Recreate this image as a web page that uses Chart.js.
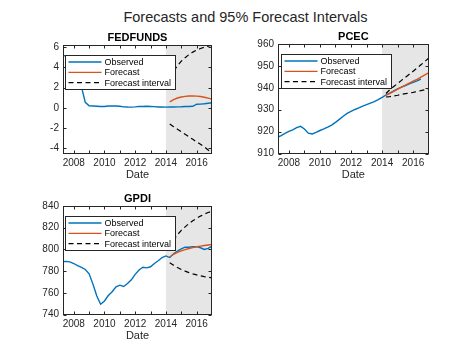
<!DOCTYPE html>
<html>
<head>
<meta charset="utf-8">
<script src="https://cdn.jsdelivr.net/npm/chart.js@4.4.0/dist/chart.umd.min.js"></script>
<style>
html,body{margin:0;padding:0;background:#fff;width:474px;height:355px;overflow:hidden}
#title{position:absolute;left:0;top:9px;width:491px;text-align:center;font:14.5px "Liberation Sans",Arial,sans-serif;line-height:17px;color:#262626;white-space:nowrap}
canvas{position:absolute}
</style>
</head>
<body>
<div id="title">Forecasts and 95% Forecast Intervals</div>
<canvas id="c1" width="237" height="160" style="left:0px;top:25px"></canvas>
<canvas id="c2" width="237" height="161" style="left:237px;top:24px"></canvas>
<canvas id="c3" width="237" height="160" style="left:0px;top:186px"></canvas>
<script>
// ---------- data ----------
const obsDates = [2007.25,2007.5,2007.75,2008.0,2008.25,2008.5,2008.75,2009.0,2009.25,2009.5,2009.75,2010.0,
  2010.25,2010.5,2010.75,2011.0,2011.25,2011.5,2011.75,2012.0,2012.25,2012.5,2012.75,2013.0,2013.25,2013.5,
  2013.75,2014.0,2014.25,2014.5,2014.75,2015.0,2015.25,2015.5,2015.75,2016.0,2016.25,2016.5,2016.75,2017.0];
const fcDates = [2014.25,2014.5,2014.75,2015.0,2015.25,2015.5,2015.75,2016.0,2016.25,2016.5,2016.75,2017.0];
const forecastStart = 2014.0;

const fedObs = [5.25,5.07,4.50,3.18,2.40,2.10,0.55,0.20,0.18,0.16,0.14,0.13,0.18,0.19,0.19,0.16,0.10,0.08,0.07,0.10,
  0.15,0.14,0.16,0.14,0.12,0.08,0.09,0.07,0.09,0.09,0.10,0.11,0.13,0.14,0.16,0.36,0.37,0.40,0.45,0.50];
const fedFc = [0.60,0.82,0.97,1.07,1.13,1.17,1.18,1.16,1.12,1.05,0.96,0.86];
const fedUp = [2.9,3.6,4.15,4.6,4.95,5.25,5.5,5.7,5.85,5.98,6.08,6.18];
const fedLo = [-1.6,-1.85,-2.1,-2.35,-2.6,-2.85,-3.1,-3.35,-3.6,-3.85,-4.15,-4.45];

const pcecObs = [917.3,918.2,919.2,920.1,920.8,921.8,922.4,921.2,919.3,918.9,919.6,920.5,921.2,922.0,923.0,924.2,
  925.6,927.0,928.3,929.2,930.1,930.8,931.6,932.3,933.0,933.7,934.6,935.6,936.7,937.6,938.6,939.5,940.3,941.0,
  941.8,942.5,943.2,944.0];
const pcecFc = [936.6,937.5,938.4,939.4,940.3,941.2,942.1,943.0,943.9,944.9,945.9,946.8];
const pcecUp = [937.4,939.1,940.6,942.0,943.4,944.8,946.2,947.6,949.0,950.5,952.0,953.6];
const pcecLo = [935.8,936.0,936.3,936.6,937.0,937.3,937.6,937.9,938.3,938.7,939.1,939.5];

const gpdiObs = [788.5,789.0,788.5,787.0,785.0,783.5,781.5,777.5,768.0,757.0,749.5,752.5,757.5,761.0,765.5,767.0,
  765.8,768.5,772.0,777.0,781.0,783.5,783.0,784.0,787.0,789.5,792.5,794.0,792.5,796.0,798.5,800.5,802.0,802.0,
  802.5,802.5,801.5,800.0,801.0,803.0];
const gpdiFc = [793.0,795.5,797.2,798.6,799.8,800.8,801.6,802.4,803.0,803.6,804.1,804.6];
const gpdiUp = [801.0,808.5,813.5,817.5,820.8,823.8,826.4,828.7,830.7,832.5,834.0,835.2];
const gpdiLo = [787.8,785.5,783.3,781.5,780.0,778.6,777.5,776.5,775.6,774.9,774.3,773.8];

const xTicks = [2008,2010,2012,2014,2016];
const xTickMarks = [2008,2009,2010,2011,2012,2013,2014,2015,2016];
const fedTicks = [-4,-2,0,2,4,6];
const pcecTicks = [910,920,930,940,950,960];
const gpdiTicks = [740,760,780,800,820,840];
const legendLabels = ['Observed','Forecast','Forecast interval'];
const xLabel = 'Date';

// ---------- styling ----------
const FONT = '"Liberation Sans", Arial, sans-serif';
const TXT = '#262626';
const BLUE = '#0072BD', ORANGE = '#D95319', BLACK = '#000000';
const DASH = [5, 3.5];

const msPlugin = {
  id: 'ms',
  beforeDatasetsDraw(chart, args, o) {
    const {ctx, chartArea: a, scales: {x}} = chart;
    const x0 = x.getPixelForValue(o.shadeFrom);
    ctx.save();
    ctx.fillStyle = '#e6e6e6';
    ctx.fillRect(x0, a.top, a.right - x0, a.bottom - a.top);
    ctx.restore();
  },
  afterDatasetsDraw(chart, args, o) {
    const {ctx, chartArea: a, scales: {x, y}} = chart;
    ctx.save();
    ctx.strokeStyle = TXT; ctx.lineWidth = 1;
    const L = Math.round(a.left) + 0.5, R = Math.round(a.right) - 0.5;
    const T = Math.round(a.top) + 0.5, B = Math.round(a.bottom) - 0.5;
    ctx.strokeRect(L, T, R - L, B - T);
    ctx.beginPath();
    o.xMarks.forEach(v => {
      const px = Math.round(x.getPixelForValue(v)) + 0.5;
      ctx.moveTo(px, B); ctx.lineTo(px, B - 3);
      ctx.moveTo(px, T); ctx.lineTo(px, T + 3);
    });
    y.ticks.forEach(t => {
      const py = Math.round(y.getPixelForValue(t.value)) + 0.5;
      ctx.moveTo(L, py); ctx.lineTo(L + 3, py);
      ctx.moveTo(R, py); ctx.lineTo(R - 3, py);
    });
    ctx.stroke();
    // legend
    const lx = Math.round(a.left + o.legendDx) + 0.5, ly = Math.round(a.top + 10) + 0.5;
    const lw = 110, lh = 34;
    ctx.fillStyle = '#fff';
    ctx.fillRect(lx, ly, lw, lh);
    ctx.strokeStyle = TXT;
    ctx.strokeRect(lx, ly, lw, lh);
    const rows = [6.5, 16.8, 27.1];
    const styles = [[BLUE, []], [ORANGE, []], [BLACK, DASH]];
    ctx.font = '9px ' + FONT;
    ctx.textBaseline = 'middle';
    ctx.textAlign = 'left';
    legendLabels.forEach((lab, i) => {
      const ry = ly + rows[i];
      ctx.beginPath();
      ctx.strokeStyle = styles[i][0];
      ctx.lineWidth = 1.3;
      ctx.setLineDash(styles[i][1]);
      ctx.moveTo(lx + 3, ry); ctx.lineTo(lx + 36, ry);
      ctx.stroke();
      ctx.setLineDash([]);
      ctx.fillStyle = '#000';
      ctx.fillText(lab, lx + 39, ry + 0.5);
    });
    ctx.restore();
  },
  afterDraw(chart, args, o) {
    const {ctx, chartArea: a} = chart;
    ctx.save();
    ctx.font = 'bold 11px ' + FONT;
    ctx.fillStyle = '#000';
    ctx.textAlign = 'center';
    ctx.textBaseline = 'middle';
    ctx.fillText(o.title, (a.left + a.right) / 2, a.top - 7.5);
    ctx.restore();
  }
};

function pts(dates, vals) { return vals.map((v, i) => ({x: dates[i], y: v})); }

function makeChart(id, opt) {
  return new Chart(document.getElementById(id), {
    type: 'line',
    data: {
      datasets: [
        {label: legendLabels[0], data: pts(obsDates, opt.obs), borderColor: BLUE, borderWidth: 1.4, order: 3},
        {label: legendLabels[1], data: pts(fcDates, opt.fc), borderColor: ORANGE, borderWidth: 1.4, order: 2},
        {label: legendLabels[2], data: pts(fcDates, opt.up), borderColor: BLACK, borderWidth: 1.2, borderDash: DASH, order: 1},
        {label: legendLabels[2] + ' ', data: pts(fcDates, opt.lo), borderColor: BLACK, borderWidth: 1.2, borderDash: DASH, order: 1}
      ]
    },
    options: {
      responsive: false, animation: false, devicePixelRatio: 1,
      events: [],
      layout: {padding: {left: 0, right: opt.padR, top: 20, bottom: 0}},
      elements: {point: {radius: 0}, line: {tension: 0, fill: false}},
      plugins: {
        legend: {display: false}, tooltip: {enabled: false},
        ms: {title: opt.title, shadeFrom: forecastStart, xMarks: xTickMarks, legendDx: opt.legendDx}
      },
      scales: {
        x: {
          type: 'linear', min: 2007.3, max: 2017.0,
          afterBuildTicks: s => { s.ticks = xTicks.map(v => ({value: v})); },
          afterFit: s => { s.height = 31.5; },
          grid: {display: false, drawTicks: false}, border: {display: false},
          ticks: {padding: 4, color: TXT, font: {family: FONT, size: 10}, maxRotation: 0, autoSkip: false,
                  callback: v => String(v)},
          title: {display: true, text: xLabel, color: TXT, font: {family: FONT, size: 11}, padding: {top: 0, bottom: 3.4}}
        },
        y: {
          min: opt.ymin, max: opt.ymax,
          afterBuildTicks: s => { s.ticks = opt.ticks.map(v => ({value: v})); },
          afterFit: s => { s.width = opt.yw; },
          grid: {display: false, drawTicks: false}, border: {display: false},
          ticks: {padding: 4, color: TXT, font: {family: FONT, size: 10}, callback: v => String(v)}
        }
      }
    },
    plugins: [msPlugin]
  });
}

makeChart('c1', {title: 'FEDFUNDS', obs: fedObs, fc: fedFc, up: fedUp, lo: fedLo, ymin: -4.5, ymax: 6.2,
  ticks: fedTicks, yw: 63, padR: 25, legendDx: 1.5});
makeChart('c2', {title: 'PCEC', obs: pcecObs, fc: pcecFc, up: pcecUp, lo: pcecLo, ymin: 910, ymax: 960,
  ticks: pcecTicks, yw: 41, padR: 45.3, legendDx: 3});
makeChart('c3', {title: 'GPDI', obs: gpdiObs, fc: gpdiFc, up: gpdiUp, lo: gpdiLo, ymin: 740, ymax: 840,
  ticks: gpdiTicks, yw: 63, padR: 25, legendDx: 1.5});
</script>
</body>
</html>
